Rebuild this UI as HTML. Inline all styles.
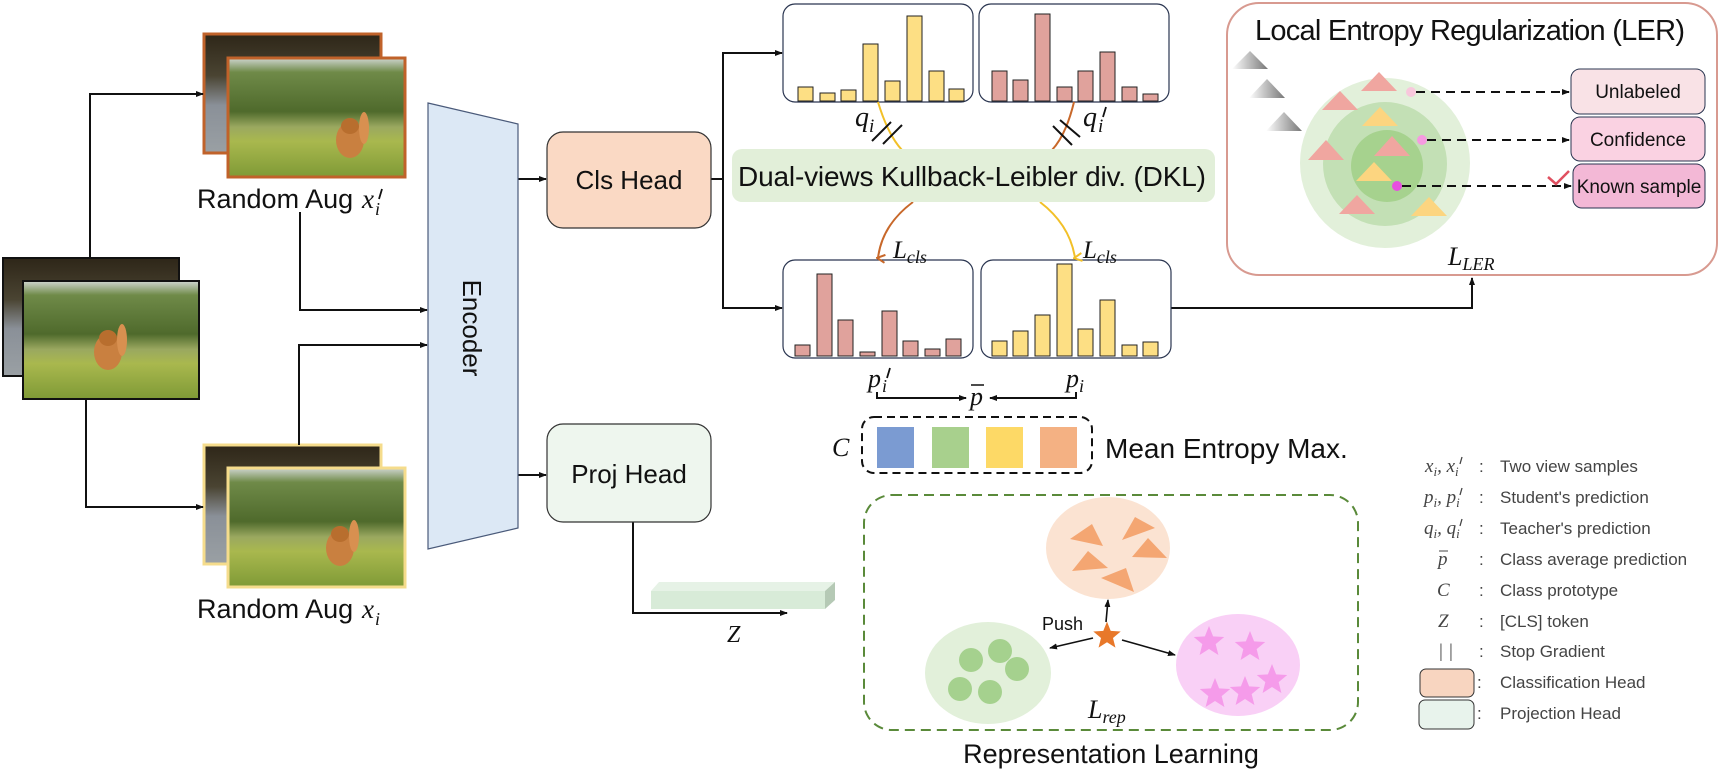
<!DOCTYPE html>
<html><head><meta charset="utf-8"><style>
html,body{margin:0;padding:0;background:#fff;}
svg{display:block;}
.t{font-family:"Liberation Sans",sans-serif;fill:#111;}
.m{font-family:"Liberation Serif",serif;font-style:italic;fill:#111;}
.lg{font-family:"Liberation Sans",sans-serif;fill:#444;font-size:17px;}
.lm{font-family:"Liberation Serif",serif;font-style:italic;fill:#444;font-size:19px;}
</style></head><body>
<svg width="1721" height="772" viewBox="0 0 1721 772" xmlns="http://www.w3.org/2000/svg">
<defs>
<marker id="ar" markerWidth="8" markerHeight="8" refX="7" refY="4" orient="auto" markerUnits="userSpaceOnUse"><path d="M0,1 L8,4 L0,7 z" fill="#111"/></marker>
<marker id="aro" markerWidth="10" markerHeight="10" refX="5" refY="8" orient="auto-start-reverse" markerUnits="userSpaceOnUse"><path d="M1,1 L5,9 L9,1" fill="none" stroke="#c8682a" stroke-width="2"/></marker>
<marker id="ary" markerWidth="10" markerHeight="10" refX="5" refY="8" orient="auto-start-reverse" markerUnits="userSpaceOnUse"><path d="M1,1 L5,9 L9,1" fill="none" stroke="#f2c028" stroke-width="2"/></marker>
<linearGradient id="photo" x1="0" y1="0" x2="0" y2="1">
<stop offset="0" stop-color="#cfd6d0"/><stop offset="0.12" stop-color="#6f8a48"/><stop offset="0.45" stop-color="#4f6a2c"/><stop offset="0.58" stop-color="#9aa860"/><stop offset="0.7" stop-color="#a9b84e"/><stop offset="1" stop-color="#7f9a36"/></linearGradient>
<linearGradient id="dark" x1="0" y1="0" x2="0" y2="1">
<stop offset="0" stop-color="#2e2618"/><stop offset="0.35" stop-color="#4a4432"/><stop offset="0.6" stop-color="#8a9098"/><stop offset="1" stop-color="#9aa0a4"/></linearGradient>
<linearGradient id="gt" x1="0" y1="0" x2="1" y2="0"><stop offset="0" stop-color="#ffffff"/><stop offset="1" stop-color="#777"/></linearGradient>
<polygon id="star" points="0,-16 4.11,-5.66 15.22,-4.94 6.66,2.16 9.4,12.94 0,7 -9.4,12.94 -6.66,2.16 -15.22,-4.94 -4.11,-5.66"/>
<g id="dog"><ellipse cx="0" cy="0" rx="14" ry="18" fill="#c98040"/><ellipse cx="0" cy="-14" rx="9" ry="8" fill="#b86e2e"/><ellipse cx="14" cy="-12" rx="5" ry="16" fill="#d89050"/></g>
</defs>

<rect x="3" y="258" width="176" height="118" fill="url(#dark)" stroke="#111" stroke-width="2"/>
<rect x="23" y="281" width="176" height="118" fill="url(#photo)" stroke="#111" stroke-width="2"/>
<use href="#dog" x="108" y="352"/>
<rect x="204" y="34" width="177" height="119" fill="url(#dark)" stroke="#c0622a" stroke-width="3"/>
<rect x="228" y="58" width="177" height="119" fill="url(#photo)" stroke="#c0622a" stroke-width="3"/>
<use href="#dog" x="350" y="140"/>
<text class="t" x="197" y="208" font-size="27">Random Aug</text>
<text class="m" x="362" y="208" font-size="27">x</text>
<text class="m" x="375" y="215" font-size="18">i</text>
<line x1="382" y1="189" x2="379" y2="199" stroke="#111" stroke-width="1.8"/>
<rect x="204" y="445" width="177" height="119" fill="url(#dark)" stroke="#f5dc8c" stroke-width="3"/>
<rect x="228" y="468" width="177" height="119" fill="url(#photo)" stroke="#f5dc8c" stroke-width="3"/>
<use href="#dog" x="340" y="548"/>
<text class="t" x="197" y="618" font-size="27">Random Aug</text>
<text class="m" x="362" y="618" font-size="27">x</text>
<text class="m" x="375" y="625" font-size="18">i</text>

<g stroke="#111" stroke-width="2" fill="none">
<path d="M90,258 V94 H203" marker-end="url(#ar)"/>
<path d="M86,399 V507 H203" marker-end="url(#ar)"/>
<path d="M300,212 V310 H427" marker-end="url(#ar)"/>
<path d="M299,445 V345 H427" marker-end="url(#ar)"/>
<path d="M518,179 H546" marker-end="url(#ar)"/>
<path d="M518,475 H546" marker-end="url(#ar)"/>
<path d="M711,179 H723"/>
<path d="M782,53 H723 V308 H782" marker-end="url(#ar)"/>
<path d="M723,53 H782" marker-end="url(#ar)"/>
<path d="M633,522 V613 H787" marker-end="url(#ar)"/>
<path d="M1171,308 H1472 V278" marker-end="url(#ar)"/>
</g>

<polygon points="428,103 518,124 518,528 428,549" fill="#dce8f5" stroke="#4a5a7a" stroke-width="1.2"/>
<text class="t" font-size="26" transform="translate(463,328) rotate(90)" text-anchor="middle">Encoder</text>

<rect x="547" y="132" width="164" height="96" rx="16" fill="#fad9c4" stroke="#333" stroke-width="1.2"/>
<text class="t" x="629" y="189" font-size="26" text-anchor="middle">Cls Head</text>
<rect x="547" y="424" width="164" height="98" rx="16" fill="#eef6ee" stroke="#333" stroke-width="1.2"/>
<text class="t" x="629" y="483" font-size="26" text-anchor="middle">Proj Head</text>

<g stroke="#2a3550" stroke-width="1.2">
<rect x="783" y="4" width="190" height="98" rx="12" fill="#fff"/>
<rect x="979" y="4" width="190" height="98" rx="12" fill="#fff"/>
<rect x="783" y="260" width="190" height="98" rx="12" fill="#fff"/>
<rect x="981" y="260" width="190" height="98" rx="12" fill="#fff"/>
</g>
<g stroke="#222" stroke-width="1" fill="#fddf84">
<rect x="798" y="87" width="15" height="14"/><rect x="820" y="93" width="15" height="8"/><rect x="841" y="90" width="15" height="11"/><rect x="863" y="44" width="15" height="57"/><rect x="885" y="81" width="15" height="20"/><rect x="907" y="16" width="15" height="85"/><rect x="929" y="71" width="15" height="30"/><rect x="949" y="89" width="15" height="12"/>
</g>
<g stroke="#222" stroke-width="1" fill="#e0a29c">
<rect x="992" y="71" width="15" height="30"/><rect x="1013" y="80" width="15" height="21"/><rect x="1035" y="14" width="15" height="87"/><rect x="1057" y="87" width="15" height="14"/><rect x="1078" y="71" width="15" height="30"/><rect x="1100" y="52" width="15" height="49"/><rect x="1122" y="87" width="15" height="14"/><rect x="1143" y="94" width="15" height="7"/>
</g>
<g stroke="#222" stroke-width="1" fill="#e0a29c">
<rect x="795" y="345" width="15" height="11"/><rect x="817" y="274" width="15" height="82"/><rect x="838" y="320" width="15" height="36"/><rect x="860" y="352" width="15" height="4"/><rect x="882" y="311" width="15" height="45"/><rect x="903" y="341" width="15" height="15"/><rect x="925" y="349" width="15" height="7"/><rect x="946" y="339" width="15" height="17"/>
</g>
<g stroke="#222" stroke-width="1" fill="#fddf84">
<rect x="992" y="341" width="15" height="15"/><rect x="1013" y="331" width="15" height="25"/><rect x="1035" y="315" width="15" height="41"/><rect x="1057" y="264" width="15" height="92"/><rect x="1078" y="329" width="15" height="27"/><rect x="1100" y="300" width="15" height="56"/><rect x="1122" y="345" width="15" height="11"/><rect x="1143" y="342" width="15" height="14"/>
</g>

<g fill="none" stroke-width="2">
<path d="M878,102 Q888,135 902,150" stroke="#f2c028"/>
<path d="M1040,202 Q1070,225 1075,258" stroke="#f2c028" marker-end="url(#ary)"/>
<path d="M1074,102 Q1066,135 1052,150" stroke="#c8682a"/>
<path d="M913,202 Q882,225 878,258" stroke="#c8682a" marker-end="url(#aro)"/>
</g>
<g stroke="#111" stroke-width="2">
<line x1="872" y1="141" x2="891" y2="122"/><line x1="883" y1="144" x2="902" y2="125"/>
<line x1="1053" y1="126" x2="1072" y2="145"/><line x1="1060" y1="120" x2="1080" y2="137"/>
</g>
<text class="m" x="855" y="126" font-size="28">q<tspan font-size="19" dy="6">i</tspan></text>
<text class="m" x="1083" y="126" font-size="28">q</text>
<text class="m" x="1098" y="132" font-size="19">i</text>
<line x1="1106" y1="107" x2="1103" y2="117" stroke="#111" stroke-width="1.8"/>

<rect x="732" y="149" width="483" height="53" rx="10" fill="#e2efd9"/>
<text class="t" x="738" y="186" font-size="28" textLength="468">Dual-views Kullback-Leibler div. (DKL)</text>

<text class="m" x="893" y="258" font-size="25">L<tspan font-size="18" dy="5">cls</tspan></text>
<text class="m" x="1083" y="258" font-size="25">L<tspan font-size="18" dy="5">cls</tspan></text>

<text class="m" x="868" y="387" font-size="26">p</text>
<text class="m" x="882" y="392" font-size="18">i</text>
<line x1="890" y1="368" x2="887" y2="378" stroke="#111" stroke-width="1.8"/>
<text class="m" x="1066" y="387" font-size="26">p<tspan font-size="18" dy="5">i</tspan></text>
<text class="m" x="970" y="405" font-size="26">p</text>
<line x1="971" y1="385" x2="984" y2="385" stroke="#111" stroke-width="1.5"/>
<g stroke="#111" stroke-width="2" fill="none">
<path d="M877,392 V398 H966" marker-end="url(#ar)"/>
<path d="M1076,392 V398 H990" marker-end="url(#ar)"/>
</g>
<rect x="862" y="417" width="230" height="56" rx="12" fill="none" stroke="#111" stroke-width="2" stroke-dasharray="8,5"/>
<rect x="877" y="427" width="37" height="41" fill="#7b9bd2"/>
<rect x="932" y="427" width="37" height="41" fill="#a8d08d"/>
<rect x="986" y="427" width="37" height="41" fill="#fdd966"/>
<rect x="1040" y="427" width="37" height="41" fill="#f4b183"/>
<text class="m" x="832" y="456" font-size="26">C</text>
<text class="t" x="1105" y="458" font-size="28">Mean Entropy Max.</text>

<polygon points="651,591 659,582 835,582 825,591" fill="#e6f2e6"/>
<polygon points="825,591 835,582 835,600 825,609" fill="#b5c9b5"/>
<rect x="651" y="591" width="174" height="18" fill="#d8ebd8"/>
<text class="m" x="727" y="642" font-size="24">Z</text>

<rect x="864" y="495" width="494" height="235" rx="28" fill="none" stroke="#5a8a3a" stroke-width="2" stroke-dasharray="10,6"/>
<ellipse cx="1108" cy="548" rx="62" ry="51" fill="#fbe3d2"/>
<g fill="#f4a672">
<polygon points="1070,539 1103,546 1092,524"/><polygon points="1122,540 1155,528 1135,517"/><polygon points="1132,557 1167,558 1148,538"/><polygon points="1072,571 1108,568 1088,551"/><polygon points="1101,578 1134,592 1126,568"/>
</g>
<ellipse cx="988" cy="673" rx="63" ry="51" fill="#e2f0da"/>
<g fill="#a5d18e">
<ellipse cx="971" cy="660" rx="12" ry="12"/><ellipse cx="1000" cy="651" rx="12" ry="12"/><ellipse cx="1017" cy="669" rx="12" ry="12"/><ellipse cx="960" cy="689" rx="12" ry="12"/><ellipse cx="990" cy="692" rx="12" ry="12"/>
</g>
<ellipse cx="1238" cy="665" rx="62" ry="51" fill="#f9d0f6"/>
<g fill="#f59bea">
<use href="#star" x="1209" y="642"/><use href="#star" x="1250" y="647"/><use href="#star" x="1215" y="694"/><use href="#star" x="1245" y="692"/><use href="#star" x="1272" y="680"/>
</g>
<use href="#star" x="1107" y="636" fill="#e8782a" transform="translate(1107 636) scale(0.9) translate(-1107 -636)"/>
<g stroke="#111" stroke-width="1.6" fill="none">
<path d="M1106,622 L1108,600" marker-end="url(#ar)"/>
<path d="M1093,638 L1050,648" marker-end="url(#ar)"/>
<path d="M1122,640 L1175,655" marker-end="url(#ar)"/>
</g>
<text class="t" x="1042" y="630" font-size="18">Push</text>
<text class="m" x="1088" y="718" font-size="26">L<tspan font-size="18" dy="5">rep</tspan></text>
<text class="t" x="1111" y="763" font-size="27" text-anchor="middle">Representation Learning</text>

<rect x="1227" y="3" width="490" height="272" rx="32" fill="#fff" stroke="#d89a90" stroke-width="2"/>
<text class="t" x="1255" y="40" font-size="29" textLength="430">Local Entropy Regularization (LER)</text>
<circle cx="1385" cy="163" r="85" fill="#e2f0da"/>
<circle cx="1385" cy="164" r="62" fill="#c3e0b5"/>
<circle cx="1387" cy="166" r="36" fill="#a6d28e"/>
<g fill="url(#gt)">
<polygon points="1232,69 1268,69 1250,51"/><polygon points="1249,98 1285,98 1267,79"/><polygon points="1266,131 1302,131 1284,112"/>
</g>
<g fill="#f0a6a0">
<polygon points="1361,91 1397,91 1379,72"/><polygon points="1322,110 1358,110 1340,91"/><polygon points="1308,160 1344,160 1326,140"/><polygon points="1374,156 1410,156 1392,136"/><polygon points="1339,214 1375,214 1357,195"/>
</g>
<g fill="#fcd580">
<polygon points="1362,126 1398,126 1380,107"/><polygon points="1356,181 1392,181 1374,162"/><polygon points="1411,216 1447,216 1429,197"/>
</g>
<circle cx="1411" cy="92" r="5" fill="#f8c8dc"/>
<circle cx="1422" cy="140" r="5" fill="#f59ae0"/>
<circle cx="1397" cy="186" r="5" fill="#e84ee0"/>
<g stroke="#111" stroke-width="2" fill="none" stroke-dasharray="9,6">
<path d="M1416,92 H1569" marker-end="url(#ar)"/>
<path d="M1427,140 H1569" marker-end="url(#ar)"/>
<path d="M1402,186 H1571" marker-end="url(#ar)"/>
</g>
<path d="M1548,177 L1556,184 L1569,171" fill="none" stroke="#e05060" stroke-width="2.5"/>
<rect x="1571" y="69" width="134" height="45" rx="9" fill="#f9e2e6" stroke="#2a3550" stroke-width="1"/>
<rect x="1571" y="117" width="134" height="44" rx="9" fill="#fad2e2" stroke="#2a3550" stroke-width="1"/>
<rect x="1573" y="164" width="132" height="44" rx="9" fill="#f3b8d6" stroke="#2a3550" stroke-width="1"/>
<text class="t" x="1638" y="98" font-size="19" text-anchor="middle">Unlabeled</text>
<text class="t" x="1638" y="146" font-size="19" text-anchor="middle">Confidence</text>
<text class="t" x="1639" y="193" font-size="19" text-anchor="middle">Known sample</text>
<text class="m" x="1448" y="265" font-size="26">L<tspan font-size="18" dy="5">LER</tspan></text>

<g>
<text class="lm" x="1425" y="472">x<tspan font-size="13" dy="4">i</tspan><tspan dy="-4">, x</tspan><tspan font-size="13" dy="4">i</tspan></text>
<text class="lm" x="1424" y="503">p<tspan font-size="13" dy="4">i</tspan><tspan dy="-4">, p</tspan><tspan font-size="13" dy="4">i</tspan></text>
<text class="lm" x="1424" y="534">q<tspan font-size="13" dy="4">i</tspan><tspan dy="-4">, q</tspan><tspan font-size="13" dy="4">i</tspan></text>
<g stroke="#444" stroke-width="1.3">
<line x1="1462" y1="457" x2="1460" y2="464"/>
<line x1="1462" y1="488" x2="1460" y2="495"/>
<line x1="1462" y1="519" x2="1460" y2="526"/>
</g>
<text class="lm" x="1438" y="565">p</text><line x1="1439" y1="551" x2="1448" y2="551" stroke="#444" stroke-width="1"/>
<text class="lm" x="1437" y="596">C</text>
<text class="lm" x="1438" y="627">Z</text>
<text class="lm" x="1438" y="657" font-style="normal">| |</text>
<rect x="1420" y="669" width="54" height="28" rx="6" fill="#f8d5c0" stroke="#333" stroke-width="1"/>
<rect x="1419" y="700" width="55" height="29" rx="6" fill="#e8f3ec" stroke="#333" stroke-width="1"/>
<g class="lg">
<text x="1479" y="472">:</text><text x="1479" y="503">:</text><text x="1479" y="534">:</text><text x="1479" y="565">:</text><text x="1479" y="596">:</text><text x="1479" y="627">:</text><text x="1479" y="657">:</text><text x="1477" y="688">:</text><text x="1477" y="719">:</text>
<text x="1500" y="472">Two view samples</text>
<text x="1500" y="503">Student's prediction</text>
<text x="1500" y="534">Teacher's prediction</text>
<text x="1500" y="565">Class average prediction</text>
<text x="1500" y="596">Class prototype</text>
<text x="1500" y="627">[CLS] token</text>
<text x="1500" y="657">Stop Gradient</text>
<text x="1500" y="688">Classification Head</text>
<text x="1500" y="719">Projection Head</text>
</g>
</g>
</svg>
</body></html>
